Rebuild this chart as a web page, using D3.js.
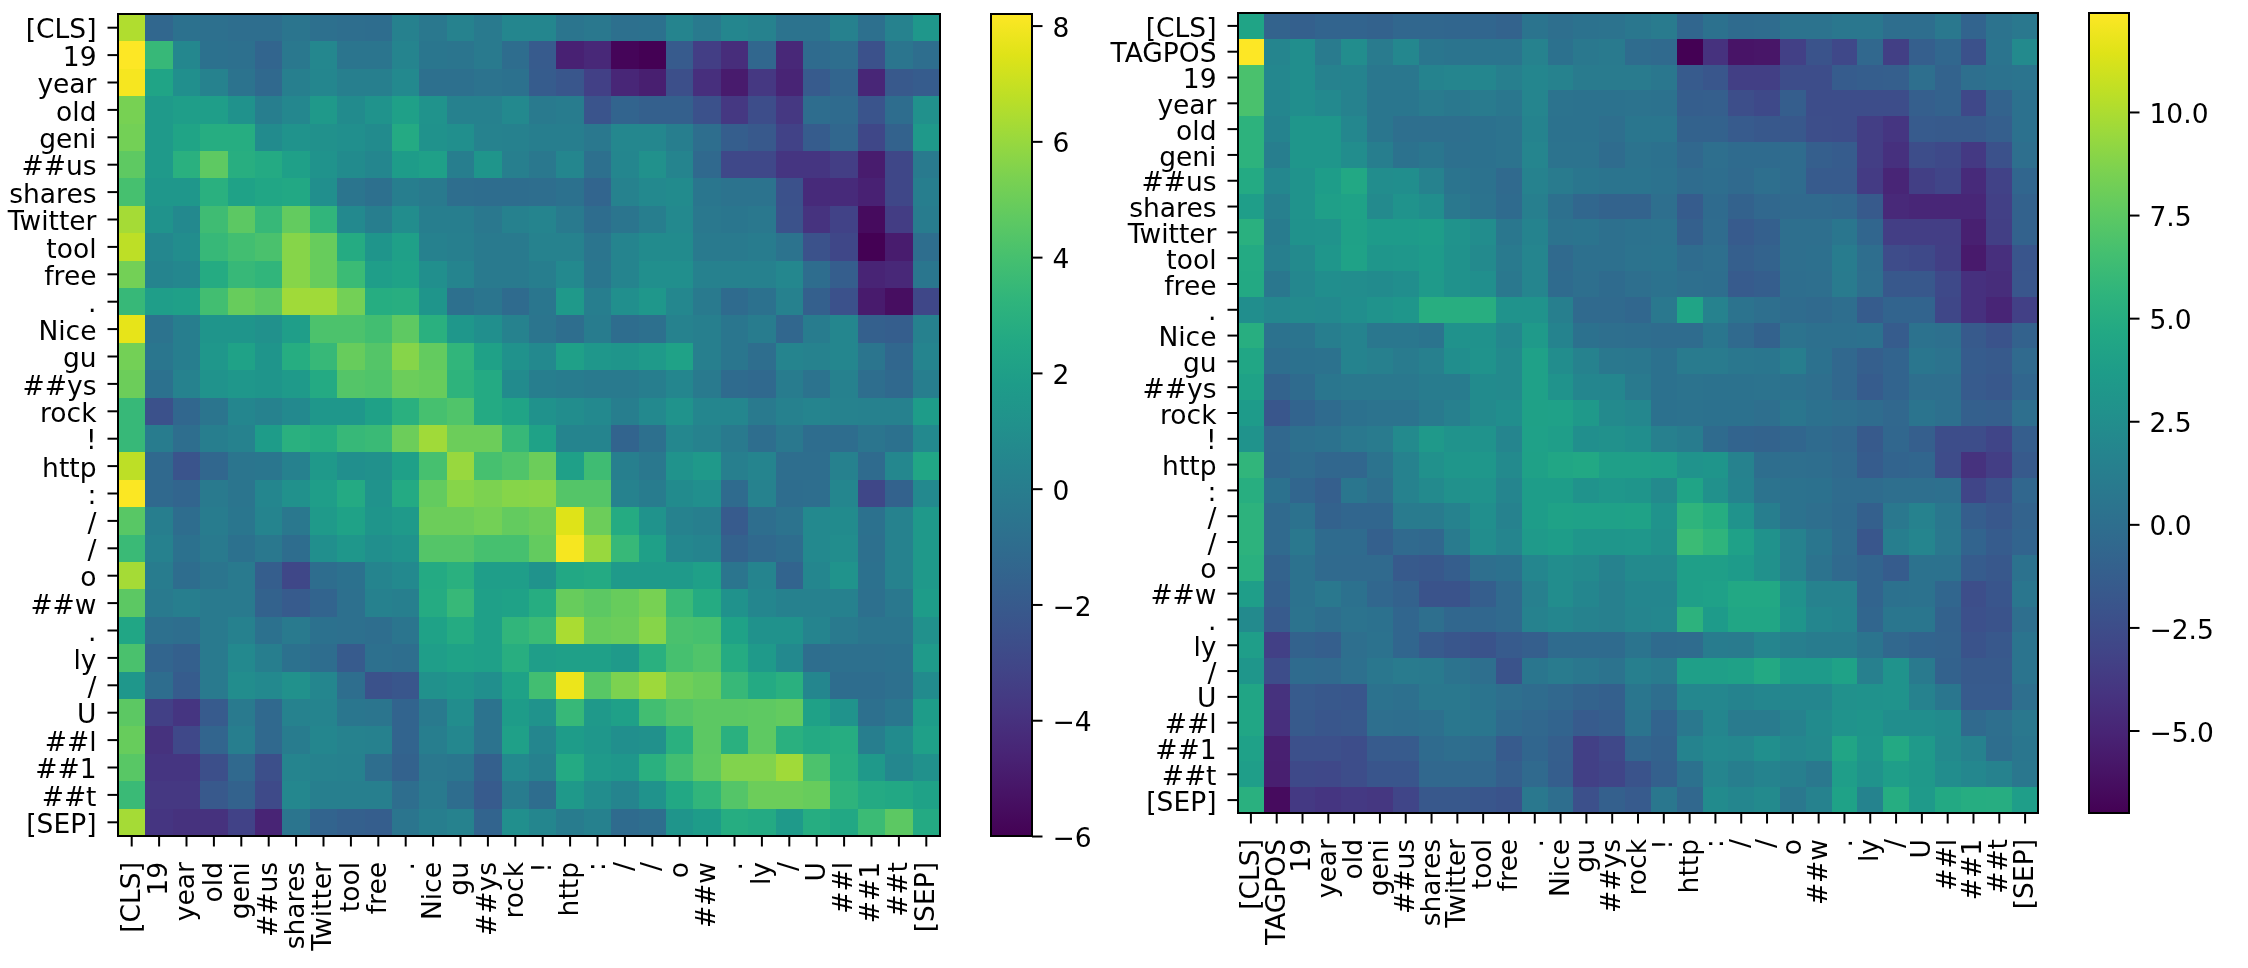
<!DOCTYPE html>
<html>
<head>
<meta charset="utf-8">
<script src="https://cdn.jsdelivr.net/npm/d3@7"></script>
<style>
  html, body { margin: 0; background: #fff; }
  svg { display: block; filter: blur(0.7px); }
  text { font-family: "DejaVu Sans", sans-serif; }
</style>
</head>
<body>
<svg id="drawing_region" width="2248" height="968"></svg>
<script>
const leftTokens = ["[CLS]","19","year","old","geni","##us","shares","Twitter","tool","free",".","Nice","gu","##ys","rock","!","http",":","/","/","o","##w",".","ly","/","U","##l","##1","##t","[SEP]"];
const rightTokens = ["[CLS]","TAGPOS","19","year","old","geni","##us","shares","Twitter","tool","free",".","Nice","gu","##ys","rock","!","http",":","/","/","o","##w",".","ly","/","U","##l","##1","##t","[SEP]"];

const leftTicks = [8,6,4,2,0,-2,-4,-6];
const rightTicks = [10,7.5,5,2.5,0,-2.5,-5];

const leftValues = [
[6.5,-1.3,-0.7,-0.8,-0.9,-0.9,-0.5,-0.8,-0.9,-1.0,0.2,-0.3,0.3,-0.2,0.5,0.5,-0.5,-0.3,-0.8,-0.7,0.4,-0.2,0.5,0.3,-0.6,-0.6,0.2,-0.8,0.3,1.5],
[8.2,3.5,0.6,-0.7,-0.8,-1.4,-0.3,0.6,-0.5,-0.5,0.4,-0.4,-0.5,-0.2,-1.0,-2.0,-4.7,-4.4,-5.8,-6,-2,-3.4,-4.2,-1.3,-4.4,-1.1,-0.9,-2.5,-0.5,-0.9],
[8,2.3,1.0,0.3,-0.6,-1.2,0.1,0.5,0.1,0.1,0.7,-0.8,-0.8,-0.6,-0.7,-1.9,-2.2,-3.3,-4.5,-4.8,-2.6,-4.1,-5,-3.7,-4.6,-2,-1.4,-4.5,-2.1,-1.9],
[5.3,1.7,1.9,1.9,1.2,0,0.6,1.6,0.8,1.3,2,1.3,0.2,0.2,0.7,-0.2,-0.1,-2.3,-1.5,-1.7,-1.7,-2.5,-3.7,-2.7,-3.7,-1,-1.1,-2.3,-1,1.1],
[5.2,1.7,2.3,2.8,2.8,0.8,1.3,1.1,1.0,0.8,2.6,1.2,1.0,0.3,0.2,0,0,-0.3,0.6,0.6,0,-0.9,-1.8,-2.1,-3.2,-1.9,-1.3,-3,-1.6,1.6],
[4.7,1.7,3,4.7,2.9,2.6,2,1.3,0.8,0.5,1.8,2,0,1.4,0.1,-0.3,0.5,-0.8,0.5,1.1,0.4,-1.2,-2.9,-2.9,-3.8,-3.8,-3.4,-4.9,-3,-0.2],
[4,1.5,1.5,3.0,2.2,2.4,2.5,1,-0.5,-0.8,0,-0.2,-0.9,-1.0,-1,-0.9,-0.7,-1.4,0.3,0.7,0.8,-0.4,-0.6,-0.6,-2.5,-4.3,-4.3,-4.7,-3,0],
[6.3,1.3,0.7,3.8,4.6,3.5,4.8,3.3,0.7,0,0.9,0,0,-0.3,0.2,0.4,-0.2,-1,-0.5,0,0.7,-0.3,-0.4,-0.3,-2.4,-3.9,-3.2,-5.6,-3.5,-0.1],
[6.8,0.6,0.9,3.5,3.9,4.1,5.6,4.9,2.7,1.4,2,0.2,0.1,-0.2,-0.2,0.3,0.3,-0.5,0.4,0.8,0.8,-0.2,-0.2,-0.1,-0.6,-2.4,-3,-6,-4.9,-0.9],
[5.2,0.4,0.6,2.7,3.5,3.3,5.6,4.9,3.7,1.9,2.2,1,0.4,-0.2,-0.2,0,0.7,-0.4,0.4,1,1,0.2,0.2,0.2,0.6,-1,-1.8,-4.6,-4.4,-0.4],
[3.5,1.9,2,3.9,4.9,4.6,6.2,6.2,5.2,2.8,2.9,1.4,-0.8,-0.5,-1.1,-0.4,1.6,0,1,1.5,0.6,-0.2,-1.1,-0.7,0.2,-1.7,-2.5,-5,-5.5,-3],
[7.7,-0.6,0,1.4,1.4,1.1,1.9,4.2,4.2,3.9,4.7,3,1.5,1,0.3,-0.5,-0.9,-0.1,-1,-0.8,0.3,0.1,-0.4,-0.1,-1.3,-0.1,0.5,-1.7,-1.8,0.2],
[5.2,-0.4,0,1.5,2.2,1.4,2.8,3.5,4.9,4.4,5.6,4.8,3.3,2.1,1.2,0.7,2,1.5,1.4,1.7,2.2,0.1,-0.4,-0.9,0.4,0.3,0.5,-0.5,-1.3,0.4],
[5,-0.7,0.3,1.3,1.5,1.4,1.7,2.6,4.4,4.3,5.0,4.9,3.2,2.6,0.8,0,-0.1,-0.2,-0.2,0,0.5,-0.2,-1.1,-1.2,-0.1,-0.6,0.2,-0.9,-1.2,0],
[3.5,-2.5,-1.3,-0.5,0.5,0.3,0.7,1.5,1.5,2.1,3,4,4.3,2.6,2.3,1.2,0.9,0.7,0,0.7,1.3,0.5,0.5,-0.2,0.2,0.4,0.3,0.2,0.2,1.8],
[3.5,-0.1,-0.9,0,0.3,1.8,3,2.8,3.5,3.6,5,6.2,5,5,3.5,2.2,0.4,0.4,-1.5,-0.8,0.6,0.3,-0.2,-0.9,-0.3,-1,-1,-0.5,-0.7,0.7],
[6.8,-1.2,-2.3,-1.3,-0.5,-0.4,0.2,1.6,1,1.1,2,4,6,4,4.3,5,2,3.8,0.1,-0.3,1.3,1.6,0.1,0.4,-0.9,-0.9,0.2,-1.1,0.6,2.4],
[8.1,-1.2,-1.4,-0.2,-0.5,0.5,1.1,1.9,2.6,1.3,2.6,4.8,5.6,5.4,5.6,5.7,4.4,4.4,0.3,-0.1,0.8,1,-1.1,0.3,-1,-0.9,0.5,-3,-1.6,0.7],
[4.5,0,-1,-0.1,-0.4,0.4,-0.3,1.7,2.2,1.4,1.7,5,5,5.2,4.8,5,7.5,5,2.7,1.3,0.3,0.1,-2,-0.9,-0.6,0.7,0.8,-0.7,0.3,1.6],
[3.6,0.2,-0.7,-0.2,-0.7,-0.3,-1,1,1.5,1,1.3,4.4,4.4,4,4,4.8,8,6,3.5,2,0.6,0.4,-1.6,-1.2,-1,0.7,0.9,-0.8,0.3,1.6],
[6.3,-0.1,-1,-0.5,-0.2,-1.8,-3,-1,-0.7,0.4,0.7,2.6,3,1.9,1.9,1.3,2.5,2.6,1.7,1.7,1.7,2,-0.5,0.4,-1.5,0.5,1.3,-0.7,0.3,1.6],
[4.6,-0.2,0,-0.2,-0.2,-1.6,-2,-1.5,-0.8,0.2,0.1,2.7,3.5,2,2.2,2.8,4.9,4.6,4.9,5.3,3.6,2.7,1.2,0.5,0.2,0.2,0.2,-0.8,-0.3,1.8],
[2.4,-0.8,-0.9,-0.2,0.2,-0.7,-0.2,-0.7,-0.8,-0.9,-0.5,2.2,2.7,2,3.3,3.7,6.4,4.9,5,5.6,4.1,4,2.2,1.2,1.2,0.4,-0.2,-0.5,-0.5,1.1],
[4.1,-1.4,-1.7,-0.2,0.7,0,-0.7,-1,-2,-0.8,-0.9,1.9,2.2,2,2.9,1.9,2,2,1.7,3,4,4.3,2.7,1.7,0.7,-0.9,-0.8,-0.8,-0.7,1.7],
[1.5,-1,-1.9,-0.2,0.9,0.7,1.1,0.5,-0.9,-2.4,-2.2,1.1,1.4,1,2.2,3.9,7.8,4.5,5.4,6.1,5.1,4.9,3.5,2.6,3,0.5,-1,-1,-0.8,0.8],
[4.6,-3.3,-3.8,-2,-0.2,-1.2,0.3,0.4,-0.4,-0.5,-1.5,-0.2,0.9,-0.6,1.8,1.3,3.5,1.6,2,3.9,4.4,4.6,4.6,4.7,4.8,2.1,1.3,-0.8,-0.4,1.8],
[4.9,-4,-2.9,-1.4,0,-1.2,-0.1,0.5,0.3,0.2,-1.5,0,0.6,-0.6,2,0.5,1.8,1.5,1,1.1,3,4.6,3,4.7,3,2.6,2.8,0,0.8,2],
[4.5,-3.8,-3.8,-2.6,-1.2,-2.6,0.4,0.3,0.2,-0.9,-1.6,-0.3,-0.4,-1.7,0.7,0.2,2.6,1.7,1.5,3,3.9,4.7,5.5,5.5,6.2,4.2,2.9,1.6,0.6,1.1],
[3.6,-3.7,-3.7,-2.1,-1.6,-2.8,0.6,0.1,0.1,0.1,-0.9,-0.2,-1,-2,-0.1,-1,1.6,0.9,0.4,1.3,2.5,3.3,4.4,5,5,4.9,3.2,2.6,2.5,2.2],
[6.3,-3.8,-4,-4,-3.2,-4.6,-0.5,-1.5,-1.7,-1.8,-0.5,0,0.3,-1.5,1,0.5,-0.1,0.2,-1.1,-0.9,1.4,1.8,2.8,2.6,1.7,2.8,2.5,3.7,4.6,2.6]
];

const rightValues = [
[4.3,-0.9,-1.1,-0.8,-0.8,-1,-0.6,-0.6,-0.7,-0.7,-0.9,0.5,0,0.3,0.4,0.7,1,-0.7,0.2,-0.3,-0.2,0.4,0.4,0.7,0.7,-0.1,-0.1,0.8,-0.8,0.4,0.8],
[12.4,1.8,2.5,1,2.4,1,2,0.6,0.5,0.5,0.5,1.5,0.2,0.8,0.9,-0.2,-0.4,-7,-4.2,-6,-5.9,-3.3,-2,-2.8,-0.5,-3.4,-1.2,-0.6,-2.2,0.5,2.2],
[6.8,2,2.5,1.5,1.7,0.7,0.7,1.7,1.8,1.9,1.3,1.9,1.6,1,1,1,0.7,-1.5,-1.8,-3.4,-3.4,-2.5,-2.5,-1.4,-1.3,-1.2,0,-0.9,0,0.3,0.5],
[6.8,1.9,2.5,2.1,1.6,0.6,0.6,1,0.8,1,0.7,1.8,0.4,0.3,0.3,0.4,0.3,-1.3,-1.2,-2.4,-2.7,-1.3,-2.5,-2.5,-2.5,-2.5,-1.2,-1,-2.8,-0.9,0.2],
[5.5,1.7,3.2,3.2,2,0.6,0,0,0,0.2,0.4,1.7,0.3,0.3,0,0.6,0.6,-1,-1,-1.5,-1.7,-1.7,-2.4,-2.5,-3.5,-4,-1.5,-1.6,-1.6,-1.2,0.2],
[5.5,1.2,3.2,3.2,2.4,1.2,0.3,0.6,0.1,0.2,0.4,1.8,0.4,0.4,-0.2,0.4,0.2,-0.5,0,-0.3,-0.3,-0.2,-1.2,-1.4,-3.5,-4.3,-2.5,-2.7,-3.8,-2.2,0],
[4.8,2,3,3.7,4.6,2.4,2.5,1.5,0.5,0.3,-0.4,1.5,1,0.6,0.5,0.5,0.3,-0.2,-0.1,-0.4,0,-0.2,-1.5,-1.5,-3.6,-5,-3.4,-3,-4.7,-3.2,-0.7],
[3.8,1.4,3,3.9,4.2,2.2,3,2.5,0.8,0.4,-0.3,1.3,0.1,-0.6,-0.9,-0.9,0,-1.4,-0.3,-1,-0.5,-0.4,-0.4,-0.5,-1.6,-4.8,-4.9,-4.9,-4.9,-3.3,-1],
[5.3,1.1,2.8,3,4.1,3.6,3.6,3.7,3,2.4,0.7,1.7,0.4,0.5,0.1,0.3,0.4,-1.1,-0.2,-1.5,-1.1,0,0,0.6,-0.7,-3.5,-3.5,-3.5,-5.3,-3.4,-1],
[4.8,1.3,2.2,3.2,4.2,3.2,3.3,3.6,2.9,2.2,0.9,1.8,-0.4,0.1,0.1,0.4,0.5,-0.2,0,-1.2,-0.9,0,0.1,1.1,-0.1,-2.6,-2.7,-3.4,-5.7,-4.4,-1.9],
[4.7,0.7,2,2.5,2.4,2.3,2.5,3.5,2.8,2.6,0.8,1.8,-0.3,0,-0.3,0,0.3,0,-0.1,-1.5,-1.3,-0.1,0,1,0,-1.7,-1.7,-2.7,-4.3,-4.5,-1.8],
[2.5,2,2.2,2.1,2.5,3,3.2,5.2,5.2,5.2,3,3,1.3,-0.4,-0.4,-0.6,0.8,4.3,1.5,0.4,0,-0.2,-0.4,-0.1,-1.4,-0.8,-0.8,-2.9,-4.3,-5,-3.3],
[5.2,0.3,0.5,1.2,1.7,0.7,0.7,0.5,2.8,2.8,2,3.5,1.7,0.2,0,-0.1,-0.2,-0.2,0.6,-0.4,-1,0.4,0.1,0.1,0.2,-1.4,0.3,0.1,-1.6,-2,-1],
[4.5,-0.1,0.2,0.3,1.7,1.4,1,1.4,2.5,3,2.2,4,2.4,1.5,0.8,0.7,0.2,1,1,0.7,0.6,1.2,0.2,-0.5,-1.2,-0.8,0.6,0.4,-1.4,-1.6,-0.4],
[4.2,-0.9,-0.3,0.6,0.8,0.8,0.8,1.1,1.1,2.3,2.2,4,3,1.9,1.9,0.9,0.2,0.4,0.3,0.3,0.4,0.3,0,-0.5,-1.4,-0.8,0,0,-1.5,-1.7,-0.7],
[3.6,-1.8,-0.8,-0.3,0.2,0.4,0.4,0.9,1.4,2.2,2.5,4.1,4,3.4,2.2,2,0.2,0.3,0.2,0.2,0,0.6,0.2,0,-0.2,-0.5,0.5,0.1,-1.1,-1.2,0],
[3,-0.5,0.1,0.3,0.8,1,2.2,3.4,3,3,1.8,4,3.8,2.6,2.7,2.5,1.4,1.1,-0.3,-0.8,-0.9,-0.7,-0.3,-0.5,-1.6,-0.6,-1.2,-2.5,-2.5,-3,-1.3],
[5.7,-0.6,-0.2,-0.6,-0.6,0.4,1.6,2.7,3.2,3.3,2.2,4.1,4.5,4.6,3.9,3.9,3.8,3,3.1,1.6,-0.1,0,-0.1,-0.4,-1.4,-0.8,-0.7,-2.6,-4.2,-3.5,-1.6],
[5.2,0.2,-0.7,-1.2,0.6,0,1.5,2.2,2.7,3,1.8,3.7,3.7,3,3.3,3.1,2.2,4.3,2.7,1.7,0.4,0.3,0.2,-0.2,-0.2,0,0,0.1,-3,-2.2,-0.6],
[5.5,-0.4,0.3,-1,-0.7,-0.7,1,1,1.6,2.6,1.6,3.7,4.2,4,4,4.2,3,5.6,5,3,1.2,0.3,0,-0.3,-1.1,0.8,1.5,0.7,-1.3,-1.7,-0.9],
[5.5,-0.4,0.8,-0.3,-0.3,-1.1,-0.4,-0.5,1,2.4,1.8,3.5,3.7,3.2,3.2,3.3,2.7,6.2,5.6,4,2.8,1.6,0.6,-0.2,-1.8,1.2,1.8,0.8,-0.8,-1.4,-0.8],
[5.3,-0.9,0.3,-0.4,-0.4,-0.4,-1.6,-1.7,-1.3,0,0.2,1.9,2.4,2.2,1.5,2.2,2.2,3.9,3.9,3.6,2.7,1.6,0.4,-0.4,-0.8,-1.4,0.3,0.3,-1.4,-1.7,0.3],
[3.8,-1.1,0.3,0.8,0.2,-0.6,-1,-2,-2,-1.3,-0.4,1.4,2.4,1.9,1.4,1.9,1.9,3.9,4,4.6,4.6,2.9,1.5,1.5,-0.8,0.2,0.3,-0.7,-2.4,-1.9,0.6],
[2.2,-1.5,0.4,-0.1,0.4,0.2,-0.7,0,-0.6,-0.6,-0.4,1.5,1.9,1.6,1.4,1.8,2,5.5,3.6,4.5,4.5,3.1,1.9,1.7,-0.7,0.6,0.6,-1,-2.3,-2,0],
[3.8,-3.3,-1,-1.2,0,0.3,-0.7,-1.5,-1.8,-2,-1.5,-1.2,-0.3,-0.3,-0.3,0.5,-0.3,-0.2,1.1,1,1.8,1.3,1.1,1.1,0.5,-0.5,-0.8,-0.9,-2,-1.7,0.5],
[3.2,-2.5,-0.3,-0.4,0.1,0.7,1,0.9,0.4,0,-2,0.6,1,0.7,0.4,1.3,1,3.9,3.9,4.1,4.7,3.6,3.6,4.2,1.4,3,0.9,-1,-1.6,-1.6,0.5],
[4.4,-4.2,-1.5,-1.7,-1.8,0.3,0.1,0.8,0.8,0.5,0,-0.2,-0.5,-0.9,-1.1,0.6,-0.1,2,2,1.7,1.9,1.9,1.9,2.7,2.8,3,1.5,0.6,-1.5,-1.5,0],
[4.5,-4.4,-1.6,-1.8,-1.7,0,-0.1,0.1,0.7,0.6,-0.3,-0.5,-0.8,-1.5,-1.3,0.5,-0.8,0.8,1.9,1,1,1.5,2.3,3,3.1,2.5,2.5,2.3,-0.4,0,0.8],
[4,-5.3,-2.3,-2.3,-2.5,-1.5,-1.5,-0.3,-0.1,-0.2,-1.5,-0.7,-1.2,-3.3,-2.8,-0.7,-1,1.7,2.1,2,2.6,2,2.2,4.4,3.2,4.7,3.5,2.2,1.6,-0.1,0.6],
[3.8,-5.4,-2.7,-2.8,-2.5,-1.9,-1.9,-0.5,-0.5,-0.5,-1.2,-0.4,-1.3,-3.3,-3,-2,-1.1,0.2,1.8,1.2,1.7,1.3,0.8,3.8,3,3.8,3.4,2.4,2,1.5,0.7],
[5.3,-6.4,-3.8,-4,-3.8,-3.9,-3,-1.7,-1.7,-1.8,-2,0.8,-0.1,-2.3,-1.1,-1.5,0.7,-0.5,2.3,1.9,2.2,0.8,1.6,4.2,1.7,5,3.5,4.7,5,5.1,3.8]
];

const svg = d3.select("#drawing_region");
const fontSize = 26.5, tickLen = 10.5, yPad = 11, xPad = 15.5, lineW = 2;
const minusFmt = s => s.replace("-", "\u2212");

function heatmap(cfg) {
    const n = cfg.tokens.length;
    const g = svg.append("g").attr("transform", `translate(${cfg.x},${cfg.y})`);
    const xscale = d3.scaleBand().domain(d3.range(n)).range([0, cfg.size]);
    const yscale = d3.scaleBand().domain(d3.range(n)).range([0, cfg.size]);
    const color = d3.scaleSequential(d3.interpolateViridis).domain(d3.extent(cfg.values.flat()));

    cfg.values.forEach((row, r) => {
        g.selectAll(null).data(row).enter().append("rect")
            .attr("x", (d, c) => xscale(c))
            .attr("y", yscale(r))
            .attr("width", xscale.bandwidth())
            .attr("height", yscale.bandwidth())
            .attr("shape-rendering", "crispEdges")
            .attr("fill", d => color(d));
    });

    const yaxis = d3.axisLeft(yscale).tickFormat(i => cfg.tokens[i]).tickSize(tickLen).tickPadding(yPad);
    const xaxis = d3.axisBottom(xscale).tickFormat(i => cfg.tokens[i]).tickSize(tickLen).tickPadding(xPad);

    const yg = g.append("g").call(yaxis);
    const xg = g.append("g").attr("transform", `translate(0,${cfg.size})`).call(xaxis);
    yg.selectAll("text").attr("dy", "0.4em");
    xg.selectAll("text")
        .attr("transform", "rotate(-90)")
        .attr("x", -(tickLen + xPad))
        .attr("y", 0)
        .attr("dy", "0.3em")
        .attr("text-anchor", "end");

    [yg, xg].forEach(a => {
        a.select(".domain").remove();
        a.selectAll("line").attr("stroke-width", lineW).attr("stroke", "#000");
        a.selectAll("text").attr("fill", "#000").style("font-size", fontSize + "px");
    });

    g.append("rect").attr("width", cfg.size).attr("height", cfg.size)
        .attr("fill", "none").attr("stroke", "#000").attr("stroke-width", lineW);

    // colorbar
    const cb = svg.append("g").attr("transform", `translate(${cfg.cbX},${cfg.y})`);
    const cbscale = d3.scaleLinear().domain(color.domain()).range([cfg.size, 0]);
    const gradId = "grad" + cfg.cbX;
    const grad = svg.append("defs").append("linearGradient").attr("id", gradId)
        .attr("x1", 0).attr("x2", 0).attr("y1", 1).attr("y2", 0);
    d3.range(0, 1.0001, 0.05).forEach(t => {
        grad.append("stop").attr("offset", t).attr("stop-color", d3.interpolateViridis(t));
    });
    cb.append("rect").attr("width", cfg.cbW).attr("height", cfg.size)
        .attr("fill", `url(#${gradId})`).attr("stroke", "#000").attr("stroke-width", lineW);

    const caxis = d3.axisRight(cbscale).tickValues(cfg.ticks)
        .tickFormat(v => minusFmt(cfg.tickFmt(v))).tickSize(tickLen).tickPadding(10);
    const cg = cb.append("g").attr("transform", `translate(${cfg.cbW},0)`).call(caxis);
    cg.select(".domain").remove();
    cg.selectAll("line").attr("stroke-width", lineW).attr("stroke", "#000");
    cg.selectAll("text").attr("fill", "#000").attr("dy", "0.4em").style("font-size", fontSize + "px");
}

heatmap({ tokens: leftTokens, values: leftValues, ticks: leftTicks, tickFmt: d3.format("d"),
          x: 118, y: 14, size: 822, cbX: 991, cbW: 41 });
heatmap({ tokens: rightTokens, values: rightValues, ticks: rightTicks, tickFmt: d3.format(".1f"),
          x: 1238, y: 13, size: 800, cbX: 2089, cbW: 40 });
</script>
</body>
</html>
